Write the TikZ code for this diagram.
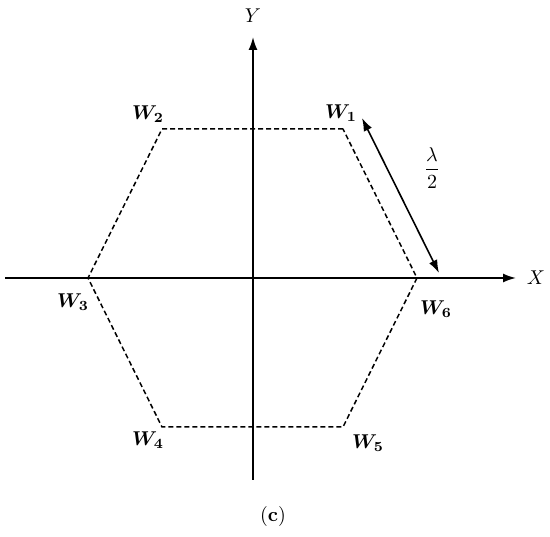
\documentclass[tikz,border=0pt]{standalone}
\usepackage{graphicx}
\usepackage{amsmath,bm}
\usetikzlibrary{arrows.meta}
\newcommand\mylab[1]{\scalebox{2.0}{#1}}
\begin{document}
\begin{tikzpicture}[x=1pt,y=-1pt,
  axis/.style={line width=1.7pt,-{Latex[length=13pt,width=9pt]}},
  hexline/.style={line width=1.5pt,dash pattern=on 5pt off 3pt},
  dimarrow/.style={line width=1.6pt,{Latex[length=13pt,width=9pt]}-{Latex[length=13pt,width=9pt]}},
  lbl/.style={inner sep=0pt}]
\useasboundingbox (0,0) rectangle (550,537);
% axes
\coordinate (xl) at (5,278);
\coordinate (xr) at (516,278);
\coordinate (yb) at (253,480);
\coordinate (yt) at (253,37);
\draw[axis] (xl) -- (xr);
\draw[axis] (yb) -- (yt);
\node[lbl] (xlab) at (536,278) {\mylab{$X$}};
\node[lbl] (ylab) at (253,16) {\mylab{$Y$}};
% hexagon
\coordinate (w1) at (343,129);
\coordinate (w2) at (162,129);
\coordinate (w3) at (88,278);
\coordinate (w4) at (162,427);
\coordinate (w5) at (343,427);
\coordinate (w6) at (417,278);
\draw[hexline] (w1) -- (w2) -- (w3) -- (w4) -- (w5) -- (w6) -- cycle;
\node[lbl] (l1) at (341,113) {\mylab{$\bm{W}_{\mathbf{1}}$}};
\node[lbl] (l2) at (148,114) {\mylab{$\bm{W}_{\mathbf{2}}$}};
\node[lbl] (l3) at (73,302) {\mylab{$\bm{W}_{\mathbf{3}}$}};
\node[lbl] (l4) at (148,440) {\mylab{$\bm{W}_{\mathbf{4}}$}};
\node[lbl] (l5) at (368,443) {\mylab{$\bm{W}_{\mathbf{5}}$}};
\node[lbl] (l6) at (436,309) {\mylab{$\bm{W}_{\mathbf{6}}$}};
% dimension
\coordinate (d1) at (362,118);
\coordinate (d2) at (439,273);
\draw[dimarrow] (d1) -- (d2);
\node[lbl] (frac) at (432,168) {\mylab{$\dfrac{\lambda}{2}$}};
% caption
\node[lbl] (cap) at (273,517) {\mylab{(\textbf{c})}};
\end{tikzpicture}
\end{document}
